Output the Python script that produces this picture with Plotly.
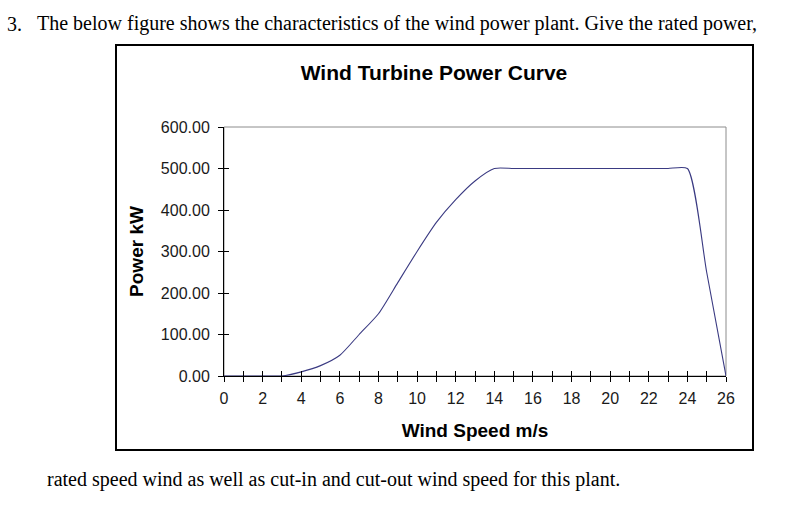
import plotly.graph_objects as go

# ---- data ----
wind_speed = [0, 1, 2, 3, 4, 5, 6, 7, 8, 9, 10, 11, 12, 13, 14, 15, 16, 17, 18, 19, 20, 21, 22, 23, 24, 25, 26]
power_kw = [0, 0, 0, 0, 10, 25, 50, 100, 150, 225, 300, 370, 425, 470, 500, 500, 500, 500, 500, 500, 500, 500, 500, 500, 500, 250, 0]

x_tick_vals = list(range(0, 27))
x_tick_text = [str(v) if v % 2 == 0 else "" for v in x_tick_vals]
y_tick_vals = [0, 100, 200, 300, 400, 500, 600]

title_text = "Wind Turbine Power Curve"
x_title = "Wind Speed m/s"
y_title = "Power kW"
question_num = "3."
question_top = "The below figure shows the characteristics of the wind power plant. Give the rated power,"
question_bottom = "rated speed wind as well as cut-in and cut-out wind speed for this plant."

SANS = "Arial, 'Liberation Sans', sans-serif"
SERIF = "'Times New Roman', 'Liberation Serif', serif"

W, H = 788, 510
L, R, T, B = 224, 62, 127, 134
pw, ph = W - L - R, H - T - B


def px_to_paper_x(px):
    return (px - L) / pw


def px_to_paper_y(py):
    return (H - B - py) / ph


fig = go.Figure()
fig.add_trace(go.Scatter(
    x=wind_speed, y=power_kw, mode="lines",
    line=dict(color="#3a3a82", width=1.1, shape="spline", smoothing=0.6),
    hoverinfo="x+y", showlegend=False,
))
# invisible trace on overlay axes so they render
fig.add_trace(go.Scatter(x=[wind_speed[0]], y=[power_kw[0]], xaxis="x2", yaxis="y2",
                         mode="markers", marker=dict(opacity=0), showlegend=False,
                         hoverinfo="skip"))

axis_font = dict(family=SANS, size=16, color="#1a1a1a")

fig.update_layout(
    width=W, height=H,
    margin=dict(l=L, r=R, t=T, b=B, pad=0),
    paper_bgcolor="white", plot_bgcolor="white",
    title=dict(text="<b>%s</b>" % title_text, x=434 / W, xanchor="center",
               y=1 - 73 / H, yanchor="middle",
               font=dict(family=SANS, size=21, color="black")),
    xaxis=dict(range=[0, 26], tickmode="array", tickvals=x_tick_vals, ticktext=x_tick_text,
               ticks="outside", ticklen=5, tickcolor="black", tickwidth=1,
               showline=True, linecolor="black", linewidth=1, showgrid=False, zeroline=False,
               tickfont=axis_font, ticklabelstandoff=3,
               title=dict(text="<b>%s</b>" % x_title, font=dict(family=SANS, size=19, color="black"),
                          standoff=17),
               automargin=False, fixedrange=True),
    yaxis=dict(range=[0, 600], tickmode="array", tickvals=y_tick_vals, tickformat=".2f",
               ticks="outside", ticklen=5, tickcolor="black", tickwidth=1,
               showline=True, linecolor="black", linewidth=1, showgrid=False, zeroline=False,
               tickfont=axis_font, ticklabelstandoff=5,
               title=dict(text="<b>%s</b>" % y_title, font=dict(family=SANS, size=19, color="black"),
                          standoff=12),
               automargin=False, fixedrange=True),
    xaxis2=dict(overlaying="x", matches="x", anchor="y", side="bottom", tickmode="array",
                tickvals=x_tick_vals, ticks="inside", ticklen=5, tickcolor="black",
                showticklabels=False, showline=False, showgrid=False, zeroline=False),
    yaxis2=dict(overlaying="y", matches="y", anchor="x", side="left", tickmode="array",
                tickvals=y_tick_vals, ticks="inside", ticklen=5, tickcolor="black",
                showticklabels=False, showline=False, showgrid=False, zeroline=False),
    showlegend=False,
)

# grey plot-area border (top & right)
fig.add_shape(type="rect", xref="paper", yref="paper", x0=0, x1=1, y0=0, y1=1,
              line=dict(color="#8c8c8c", width=1), layer="below")
# black outer chart frame
fig.add_shape(type="rect", xref="paper", yref="paper",
              x0=px_to_paper_x(116), x1=px_to_paper_x(753),
              y0=px_to_paper_y(450), y1=px_to_paper_y(45),
              line=dict(color="black", width=2), layer="below")

fig.add_annotation(text=question_num, xref="paper", yref="paper",
                   x=px_to_paper_x(5), y=px_to_paper_y(24), xanchor="left", yanchor="middle",
                   showarrow=False, font=dict(family=SERIF, size=20, color="black"))
fig.add_annotation(text=question_top, xref="paper", yref="paper",
                   x=px_to_paper_x(35), y=px_to_paper_y(24), xanchor="left", yanchor="middle",
                   showarrow=False, font=dict(family=SERIF, size=20, color="black"))
fig.add_annotation(text=question_bottom, xref="paper", yref="paper",
                   x=px_to_paper_x(45), y=px_to_paper_y(480), xanchor="left", yanchor="middle",
                   showarrow=False, font=dict(family=SERIF, size=20, color="black"))

fig.write_html("out.html")
